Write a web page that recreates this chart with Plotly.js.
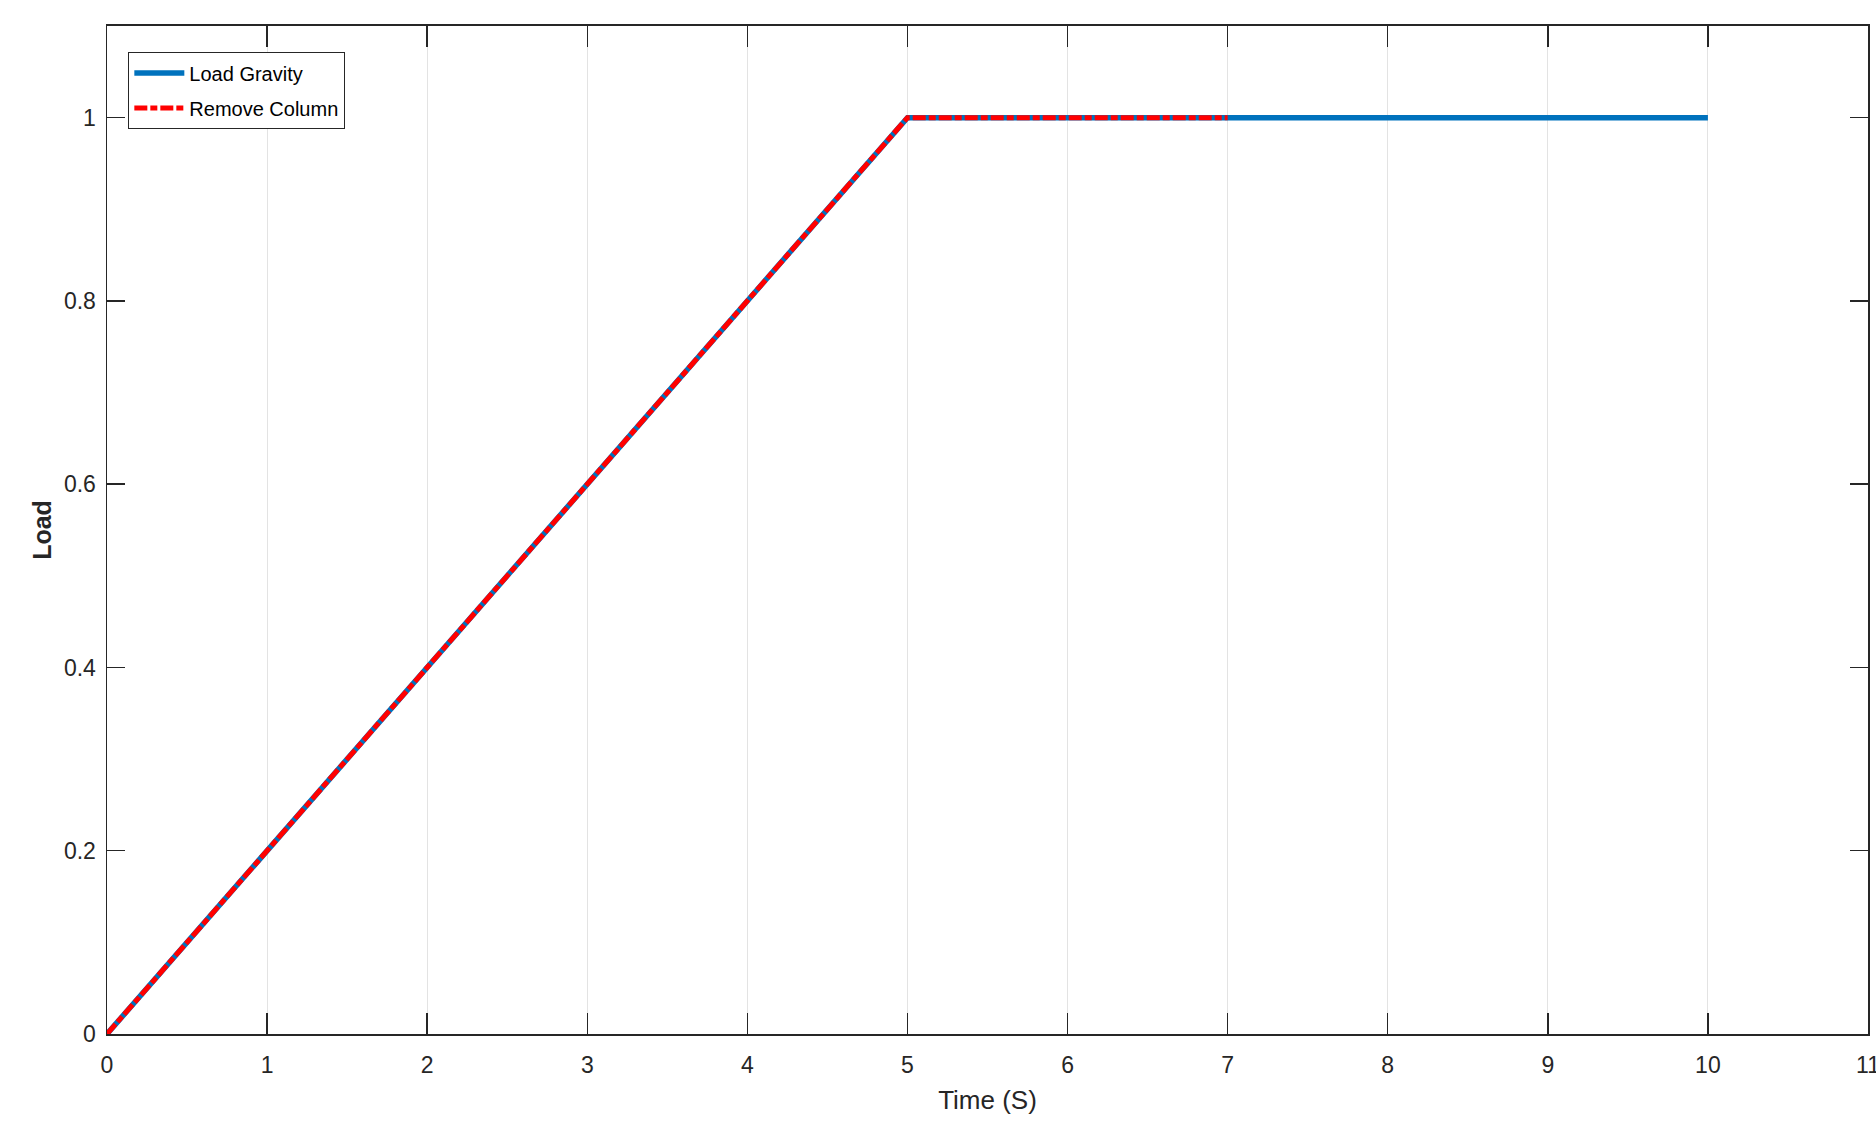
<!DOCTYPE html>
<html>
<head>
<meta charset="utf-8">
<script src="https://cdn.plot.ly/plotly-3.0.1.min.js"></script>
<style>html,body{margin:0;padding:0;background:#fff}#chart{width:1876px;height:1123px}</style>
</head>
<body>
<div id="chart"></div>
<script>
var gravityTime = [0, 5, 10];
var gravityLoad = [0, 1, 1];
var removeTime = [0, 5, 7];
var removeLoad = [0, 1, 1];
var xTicks = [0,1,2,3,4,5,6,7,8,9,10,11];
var yTicks = [0,0.2,0.4,0.6,0.8,1];
var yTickLabels = ['0','0.2','0.4','0.6','0.8','1'];

var traces = [
  {x: gravityTime, y: gravityLoad, name: 'Load Gravity', mode: 'lines', legendgroup: 'a',
   line: {color: '#0072BD', width: 5.5}},
  {x: removeTime, y: removeLoad, name: 'Remove Column', mode: 'lines', legendgroup: 'b',
   line: {color: '#FF0000', width: 5, dash: '13px,3px,7px,3px'}}
];

var font = {family: 'Liberation Sans, Arial, sans-serif', color: '#262626'};
var layout = {
  width: 1876, height: 1123,
  margin: {l: 107, r: 8, t: 26, b: 89},
  paper_bgcolor: '#fff', plot_bgcolor: '#fff',
  font: font,
  showlegend: true,
  legend: {
    x: 0.012, y: 0.974, xanchor: 'left', yanchor: 'top',
    bgcolor: '#fff', bordercolor: '#262626', borderwidth: 1.2,
    font: {family: font.family, size: 20, color: '#000'},
    traceorder: 'grouped', tracegroupgap: 6, itemwidth: 50
  },
  xaxis: {
    range: [0, 11], tickvals: xTicks, ticktext: xTicks.map(String),
    showgrid: true, gridcolor: '#e3e3e3', gridwidth: 1,
    zeroline: false, showline: true, linecolor: '#262626', linewidth: 2, mirror: 'ticks',
    ticks: 'inside', ticklen: 21, tickwidth: 1.5, tickcolor: '#262626',
    ticklabeloverflow: 'allow', ticklabelstandoff: 9,
    tickfont: {family: font.family, size: 23, color: '#262626'},
    title: {text: 'Time (S)', font: {family: font.family, size: 26, color: '#262626'}, standoff: 14}
  },
  yaxis: {
    range: [0, 1.1], tickvals: yTicks, ticktext: yTickLabels,
    showgrid: false, zeroline: false,
    showline: true, linecolor: '#262626', linewidth: 1.5, mirror: 'ticks',
    ticks: 'inside', ticklen: 18, tickwidth: 1.5, tickcolor: '#262626',
    ticklabelstandoff: 5,
    tickfont: {family: font.family, size: 23, color: '#262626'},
    title: {text: '<b>Load</b>', font: {family: font.family, size: 25, color: '#262626'}, standoff: 5}
  }
};

Plotly.newPlot('chart', traces, layout, {displayModeBar: false, staticPlot: true});
</script>
</body>
</html>
